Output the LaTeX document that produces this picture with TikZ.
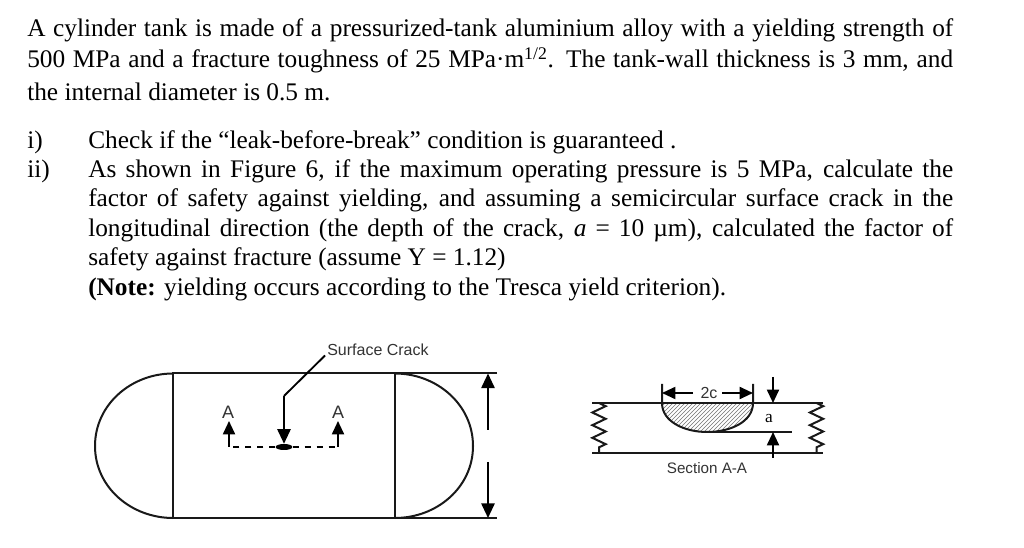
\documentclass[tikz,border=0pt]{standalone}
\usepackage{fontspec}
\setmainfont{Liberation Serif}
\setsansfont{Liberation Sans}
\usetikzlibrary{shapes.geometric, arrows.meta, patterns, decorations.pathmorphing}
\tikzset{
  body/.style={anchor=base west, inner sep=0pt, font=\fontsize{19pt}{22pt}\selectfont, text=black},
  lab/.style={inner sep=0pt, font=\sffamily\fontsize{12pt}{14pt}\selectfont, text=black!80},
  wall/.style={line width=1.5pt, black!90}
}
\tikzstyle{arrow} = [line width=1.4pt,black,->,>={Triangle[length=11pt,width=10pt]}]
\tikzstyle{smallarrow} = [line width=1.4pt,black,->,>={Triangle[length=10pt,width=9pt]}]
\newcommand{\fullline}[1]{\makebox[694.5pt][s]{#1}}
\newcommand{\itemline}[1]{\makebox[648.75pt][s]{#1}}

\begin{document}
\begin{tikzpicture}[x=0.75pt,y=-0.75pt]
    \useasboundingbox (0,0) rectangle (1024,548);
    % question text
    \node [body] (l1) at (27,37) {\fullline{A cylinder tank is made of a pressurized-tank aluminium alloy with a yielding strength of}};
    \node [body] (l2) at (27,68) {\fullline{500 MPa and a fracture toughness of 25 MPa·m\textsuperscript{1/2}. The tank-wall thickness is 3 mm, and}};
    \node [body] (l3) at (27,101) {the internal diameter is 0.5 m.};
    \node [body] (i1) at (27,149) {i)};
    \node [body] (t1) at (88,149) {Check if the “leak-before-break” condition is guaranteed .};
    \node [body] (i2) at (27,178) {ii)};
    \node [body] (t2) at (88,178) {\itemline{As shown in Figure 6, if the maximum operating pressure is 5 MPa, calculate the}};
    \node [body] (t3) at (88,207) {\itemline{factor of safety against yielding, and assuming a semicircular surface crack in the}};
    \node [body] (t4) at (88,237) {\itemline{longitudinal direction (the depth of the crack, \textit{a} = 10 µm), calculated the factor of}};
    \node [body] (t5) at (88,266) {safety against fracture (assume Y = 1.12)};
    \node [body] (t6) at (88,296) {\textbf{(Note:} yielding occurs according to the Tresca yield criterion).};

    % tank
    \coordinate (tl) at (173,373.5);
    \coordinate (tr) at (395,373.5);
    \coordinate (bl) at (173,518);
    \coordinate (br) at (395,518);
    \coordinate (te) at (497,373.5);
    \coordinate (be) at (497,518);
    \coordinate (capl) at (95,446);
    \coordinate (capr) at (473,446);
    \draw [wall] (te) -- (tl) -- (bl) -- (be);
    \draw [wall] (tr) -- (br);
    \draw [wall] (tl) to[out=180,in=90] (capl) to[out=-90,in=180] (bl);
    \draw [wall] (tr) to[out=0,in=90] (capr) to[out=-90,in=0] (br);

    % crack and section marks
    \node [ellipse, fill=black, inner sep=0pt, minimum width=12.5pt, minimum height=4.5pt] (crack) at (284,447) {};
    \node [lab, anchor=west] (sc) at (327,349.5) {Surface Crack};
    \coordinate (kink) at (284,396);
    \coordinate (sa1) at (229,447);
    \coordinate (sa2) at (338,447);
    \coordinate (sa1t) at (229,421);
    \coordinate (sa2t) at (338,421);
    \node [lab, font=\sffamily\fontsize{13.5pt}{14pt}\selectfont] (a1) at (228,412) {A};
    \node [lab, font=\sffamily\fontsize{13.5pt}{14pt}\selectfont] (a2) at (338,412) {A};
    \draw [line width=1.4pt] (sc.west) ++(-2,6) coordinate (sc0) -- (kink);
    \draw [arrow] (kink) -- (crack.north);
    \draw [line width=1.6pt, dash pattern=on 4.5pt off 4.5pt] (crack) -- (sa1);
    \draw [line width=1.6pt, dash pattern=on 4.5pt off 4.5pt] (crack) -- (sa2);
    \draw [smallarrow] (sa1) -- (sa1t);
    \draw [smallarrow] (sa2) -- (sa2t);

    % tank diameter
    \coordinate (dt) at (488,373.5);
    \coordinate (db) at (488,518);
    \coordinate (dt1) at (488,430);
    \coordinate (db1) at (488,462);
    \draw [arrow] (dt1) -- (dt);
    \draw [arrow] (db1) -- (db);

    % section A-A
    \coordinate (s1) at (592,403);
    \coordinate (s2) at (823,403);
    \coordinate (s3) at (592,453);
    \coordinate (s4) at (823,453);
    \coordinate (cl) at (662,403);
    \coordinate (cr) at (753,403);
    \coordinate (cb) at (707,432);
    \coordinate (ce) at (792,432);
    \coordinate (clt) at (662,384);
    \coordinate (crt) at (753,384);
    \fill [pattern=north east lines, pattern color=black!55] (cl) .. controls (662,422) and (685,432) .. (cb) .. controls (730,432) and (753,422) .. (cr) -- cycle;
    \draw [wall] (s1) -- (s2);
    \draw [wall] (s3) -- (s4);
    \draw [wall] (cb) -- (ce);
    \draw [wall] (clt) -- (cl) .. controls (662,422) and (685,432) .. (cb) .. controls (730,432) and (753,422) .. (cr) -- (crt);
    \draw [wall, decorate, decoration={zigzag,segment length=9.5pt,amplitude=5pt}] (599,403) coordinate (z1) -- (599,453) coordinate (z2);
    \draw [wall, decorate, decoration={zigzag,segment length=9.5pt,amplitude=5pt}] (816.5,403) coordinate (z3) -- (816.5,453) coordinate (z4);
    \node [lab] (two) at (709,393) {2c};
    \coordinate (twol) at (693,393);
    \coordinate (twor) at (722,393);
    \draw [smallarrow] (twol) -- (cl |- twol);
    \draw [smallarrow] (twor) -- (cr |- twor);
    \node [body, anchor=center, font=\fontsize{13pt}{14pt}\selectfont] (depth) at (769,419) {a};
    \coordinate (at) at (773,377);
    \coordinate (ab) at (773,458);
    \draw [smallarrow] (at) -- (773,403) coordinate (at1);
    \draw [smallarrow] (ab) -- (773,432) coordinate (ab1);
    \node [lab, font=\sffamily\fontsize{11.4pt}{14pt}\selectfont] (sect) at (707,468) {Section A-A};
\end{tikzpicture}
\end{document}
